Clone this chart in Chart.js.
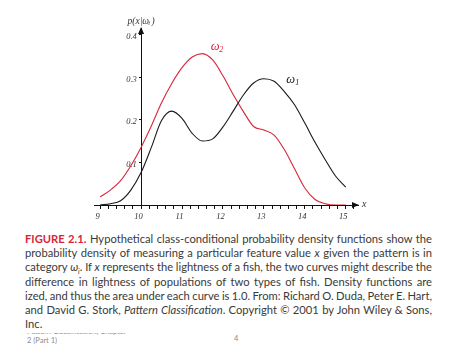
<!DOCTYPE html>
<html>
<head>
<meta charset="utf-8">
<script src="https://cdn.jsdelivr.net/npm/chart.js@4"></script>
<style>
  html, body { margin: 0; padding: 0; background: #fff; }
  body { width: 474px; height: 355px; position: relative; overflow: hidden; }
  #wrap { position: absolute; left: 0; top: 0; width: 474px; height: 225px; }
  #caption { position: absolute; left: 25px; top: 232px; width: 407px;
    font-family: Lato, "Liberation Sans", sans-serif; font-size: 11.2px; line-height: 14.2px; color: #3a3a3a;
    word-spacing: -1.5px; }
  #caption .ln { text-align: justify; text-align-last: justify; height: 14.2px; overflow: hidden; }
  #caption .last { text-align-last: left; }
  #caption .fig { color: #d8253a; font-weight: bold; }
  #caption i { font-style: italic; }
  #footclip { position: absolute; left: 27px; top: 333px; width: 120px; height: 20px; overflow: hidden; }
  #foot { position: absolute; left: 0; top: -6px; font-family: Lato, sans-serif; font-size: 7.5px; line-height: 9px; color: #8a8a8a; }
  #pagenum { position: absolute; left: 234px; top: 334px; font-family: Lato, sans-serif; font-size: 7.5px; color: #8a8a8a; }
</style>
</head>
<body>
<div id="wrap"><canvas id="c" width="474" height="225"></canvas></div>
<div id="caption">
  <div class="ln"><span class="fig">FIGURE 2.1.</span> Hypothetical class-conditional probability density functions show the</div>
  <div class="ln">probability density of measuring a particular feature value <i>x</i> given the pattern is in</div>
  <div class="ln">category <i>ω<sub style="font-size:7px">i</sub></i>. If <i>x</i> represents the lightness of a fish, the two curves might describe the</div>
  <div class="ln">difference in lightness of populations of two types of fish. Density functions are normal-</div>
  <div class="ln">ized, and thus the area under each curve is 1.0. From: Richard O. Duda, Peter E. Hart,</div>
  <div class="ln">and David G. Stork, <i>Pattern Classification</i>. Copyright © 2001 by John Wiley &amp; Sons,</div>
  <div class="ln last">Inc.</div>
</div>
<div id="footclip"><div id="foot">Pattern Classification, Chapter<br>2 (Part 1)</div></div>
<div id="pagenum">4</div>
<script>
// ---- data ----
const xValues = [9, 9.25, 9.5, 9.75, 10, 10.25, 10.5, 10.75, 11, 11.25, 11.5, 11.75, 12,
                 12.25, 12.5, 12.75, 13, 13.25, 13.5, 13.75, 14, 14.25, 14.5, 14.75, 15];
const omega1 = [0.0, 0.003, 0.01, 0.035, 0.076, 0.135, 0.198, 0.22, 0.203, 0.168, 0.15, 0.155, 0.183,
                0.22, 0.258, 0.286, 0.296, 0.29, 0.266, 0.235, 0.192, 0.147, 0.106, 0.068, 0.042];
const omega2 = [0.019, 0.035, 0.057, 0.092, 0.135, 0.185, 0.24, 0.285, 0.322, 0.347, 0.355, 0.34, 0.303,
                0.259, 0.219, 0.184, 0.176, 0.164, 0.13, 0.085, 0.04, 0.013, 0.003, 0.0, 0.0];
const xTickLabels = [9, 10, 11, 12, 13, 14, 15];
const yTickLabels = [0.1, 0.2, 0.3, 0.4];
const seriesNames = ['ω1', 'ω2'];

const toPts = (ys) => xValues.map((x, i) => ({ x: x, y: ys[i] }));
const SERIF = '"Liberation Serif", "DejaVu Serif", serif';
const RED = '#d8253a';

const decor = {
  id: 'decor',
  afterDraw(chart) {
    const ctx = chart.ctx;
    const xs = chart.scales.x, ys = chart.scales.y;
    const x0 = xs.getPixelForValue(10);
    const y0 = ys.getPixelForValue(0);
    ctx.save();
    ctx.fillStyle = '#111';
    ctx.beginPath();
    ctx.moveTo(xs.right + 1, y0);
    ctx.lineTo(xs.right - 6, y0 - 3);
    ctx.lineTo(xs.right - 6, y0 + 3);
    ctx.closePath(); ctx.fill();
    ctx.beginPath();
    ctx.moveTo(x0, ys.top - 1);
    ctx.lineTo(x0 - 3, ys.top + 6);
    ctx.lineTo(x0 + 3, ys.top + 6);
    ctx.closePath(); ctx.fill();
    ctx.font = 'italic 10px ' + SERIF;
    ctx.fillStyle = '#333';
    ctx.textBaseline = 'middle';
    ctx.textAlign = 'left';
    ctx.fillText('x', xs.right + 4, y0 - 1);
    ctx.textAlign = 'center';
    ctx.font = 'italic 9.5px ' + SERIF;
    ctx.fillText('p(x|ω )', x0, ys.top - 7);
    ctx.font = 'italic 6px ' + SERIF;
    ctx.fillText('i', x0 + 8, ys.top - 4.5);
    ctx.textAlign = 'left';
    ctx.font = 'italic 12.5px ' + SERIF;
    ctx.fillStyle = RED;
    let px = xs.getPixelForValue(11.7), py = ys.getPixelForValue(0.37);
    ctx.fillText(seriesNames[1].charAt(0), px, py);
    ctx.font = 'italic 8px ' + SERIF;
    ctx.fillText('2', px + 8.5, py + 3);
    ctx.fillStyle = '#222';
    ctx.font = 'italic 12.5px ' + SERIF;
    px = xs.getPixelForValue(13.55); py = ys.getPixelForValue(0.294);
    ctx.fillText(seriesNames[0].charAt(0), px, py);
    ctx.font = 'italic 8px ' + SERIF;
    ctx.fillText('1', px + 9, py + 3);
    ctx.restore();
  }
};

new Chart(document.getElementById('c'), {
  type: 'line',
  data: {
    datasets: [
      { label: seriesNames[0], data: toPts(omega1), borderColor: '#1a1a1a', borderWidth: 1.1,
        pointRadius: 0, fill: false, cubicInterpolationMode: 'monotone' },
      { label: seriesNames[1], data: toPts(omega2), borderColor: RED, borderWidth: 1.1,
        pointRadius: 0, fill: false, cubicInterpolationMode: 'monotone' }
    ]
  },
  options: {
    responsive: false,
    animation: false,
    devicePixelRatio: 1,
    layout: { padding: { left: 94, right: 116, top: 28, bottom: 20 } },
    plugins: { legend: { display: false }, tooltip: { enabled: false } },
    scales: {
      x: {
        type: 'linear', min: 8.85, max: 15.3,
        position: { y: 0 },
        border: { display: true, color: '#111', width: 1 },
        grid: { drawOnChartArea: false, drawTicks: true, tickLength: 3, color: '#111' },
        ticks: {
          stepSize: 0.2, includeBounds: false, autoSkip: false, maxRotation: 0,
          padding: 4, labelOffset: -2.5,
          color: '#333', font: { family: SERIF, style: 'italic', size: 8.5 },
          callback: (v) => {
            const r = Math.round(v);
            return (Math.abs(v - r) < 1e-6 && xTickLabels.includes(r)) ? String(r) : '';
          }
        }
      },
      y: {
        type: 'linear', min: 0, max: 0.415,
        position: { x: 10 },
        border: { display: true, color: '#111', width: 1 },
        grid: { drawOnChartArea: false, drawTicks: true, tickLength: 2, color: '#111' },
        afterBuildTicks: (s) => { s.ticks = yTickLabels.map(v => ({ value: v })); },
        ticks: {
          padding: 2, labelOffset: 2.5,
          color: '#333', font: { family: SERIF, style: 'italic', size: 8.5 },
          callback: (v) => v.toFixed(1) + '\u2002'
        }
      }
    }
  },
  plugins: [decor]
});
</script>
</body>
</html>
